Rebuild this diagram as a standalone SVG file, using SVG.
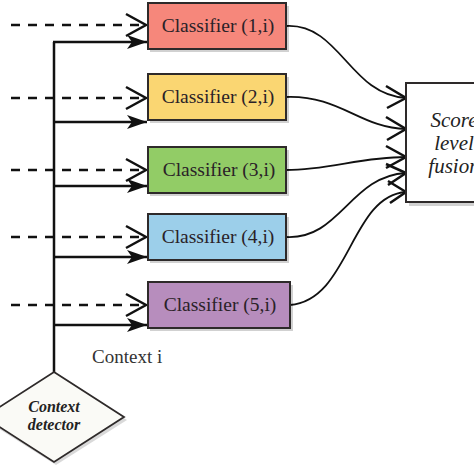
<svg xmlns="http://www.w3.org/2000/svg" width="474" height="474" viewBox="0 0 474 474">
<defs>
<style>
.box{stroke:#2e2a2a;stroke-width:2}
.lbl{font-family:"Liberation Serif",serif;font-size:19.5px;fill:#2a2228;text-anchor:middle}
.dash{stroke:#111;stroke-width:2.5;stroke-dasharray:9,8;fill:none}
.solid{stroke:#111;stroke-width:2.5;fill:none}
.curve{stroke:#111;stroke-width:1.8;fill:none}
.open{stroke:#111;stroke-width:2.5;fill:none}
.shadow{fill:#000;opacity:0.18}
.fus{font-family:"Liberation Serif",serif;font-style:italic;font-size:21px;fill:#222;text-anchor:middle}
.det{font-family:"Liberation Serif",serif;font-style:italic;font-weight:bold;font-size:16px;fill:#222;text-anchor:middle}
</style>
<marker id="filled" markerWidth="20" markerHeight="14" refX="20" refY="7" orient="auto" markerUnits="userSpaceOnUse">
<path d="M0,0 L20,7 L0,14 L5,7 Z" fill="#111"/>
</marker>
</defs>
<rect width="474" height="474" fill="#fff"/>
<g id="connectors">
<path class="dash" d="M11,25 H144"/>
<path class="dash" d="M11,98 H144"/>
<path class="dash" d="M11,170 H144"/>
<path class="dash" d="M11,237 H144"/>
<path class="dash" d="M11,305 H144"/>
<path class="open" d="M126,14 L146,25 L126,36"/>
<path class="open" d="M126,87 L146,98 L126,109"/>
<path class="open" d="M126,159 L146,170 L126,181"/>
<path class="open" d="M126,226 L146,237 L126,248"/>
<path class="open" d="M126,294 L146,305 L126,316"/>
<path class="solid" d="M54,373 V42"/>
<path class="solid" d="M53,42 H147" marker-end="url(#filled)"/>
<path class="solid" d="M53,122 H147" marker-end="url(#filled)"/>
<path class="solid" d="M53,186 H147" marker-end="url(#filled)"/>
<path class="solid" d="M53,257 H147" marker-end="url(#filled)"/>
<path class="solid" d="M53,325 H147" marker-end="url(#filled)"/>
<path class="curve" d="M287,26 C340,24 350,95 406,98"/>
<path class="curve" d="M286,97 C340,95 360,128 406,129"/>
<path class="curve" d="M286,170 C330,170 360,157 406,157"/>
<path class="curve" d="M286,237 C340,240 350,176 406,173"/>
<path class="curve" d="M290,305 C350,300 350,196 406,192"/>
<path class="open" d="M386,86 L406,98 L387,108"/>
<path class="open" d="M386,117 L406,129 L387,140"/>
<path class="open" d="M386,146 L406,157 L386,168"/>
<path class="open" d="M386,164 L406,173 L388,185"/>
<path class="open" d="M388,181 L406,192 L390,203"/>
</g>
<g id="classifier1">
<rect class="shadow" x="150" y="6" width="139" height="46"/>
<rect class="box" x="148" y="3" width="138" height="46" fill="#f6877b"/>
<text class="lbl" x="218" y="32">Classifier (1,i)</text>
</g>
<g id="classifier2">
<rect class="shadow" x="150" y="77" width="139" height="46"/>
<rect class="box" x="148" y="74" width="138" height="46" fill="#fad672"/>
<text class="lbl" x="218" y="103">Classifier (2,i)</text>
</g>
<g id="classifier3">
<rect class="shadow" x="150" y="150" width="139" height="46"/>
<rect class="box" x="148" y="147" width="138" height="46" fill="#92cc66"/>
<text class="lbl" x="219" y="176">Classifier (3,i)</text>
</g>
<g id="classifier4">
<rect class="shadow" x="150" y="217" width="139" height="46"/>
<rect class="box" x="148" y="214" width="138" height="46" fill="#9ccfea"/>
<text class="lbl" x="218" y="243">Classifier (4,i)</text>
</g>
<g id="classifier5">
<rect class="shadow" x="150" y="285" width="143" height="46"/>
<rect class="box" x="148" y="282" width="142" height="46" fill="#b78dbd"/>
<text class="lbl" x="220" y="311">Classifier (5,i)</text>
</g>
<g id="fusion">
<rect class="shadow" x="409" y="86" width="80" height="120"/>
<rect x="406" y="83" width="80" height="119" fill="#fff" stroke="#2e2a2a" stroke-width="2"/>
<text class="fus" x="454" y="127">Score</text>
<text class="fus" x="454" y="150">level</text>
<text class="fus" x="454" y="173">fusion</text>
</g>
<g id="context-label">
<text font-family="Liberation Serif,serif" font-size="19" fill="#333" x="92" y="363">Context i</text>
</g>
<g id="detector">
<path d="M56,375 L127,420 L56,465 L-15,420 Z" fill="#000" opacity="0.15"/>
<path d="M54,372 L124,417 L54,462 L-16,417 Z" fill="#fafaf6" stroke="#2e2a2a" stroke-width="1.8"/>
<text class="det" x="54" y="412">Context</text>
<text class="det" x="54" y="430">detector</text>
</g>
</svg>
